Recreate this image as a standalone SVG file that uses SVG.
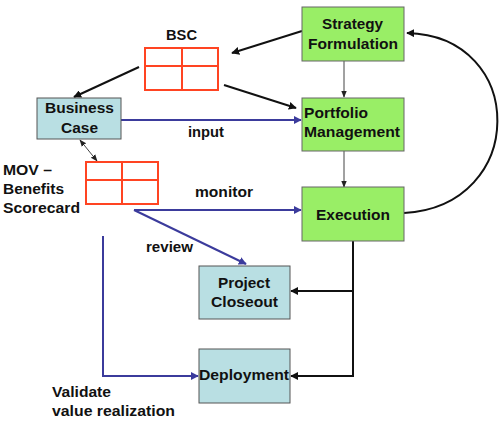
<svg xmlns="http://www.w3.org/2000/svg" width="499" height="427" viewBox="0 0 499 427">
<style>
text{font-family:"Liberation Sans",Arial,sans-serif;font-weight:bold;fill:#111;}
.b{font-size:15px;}
.l{font-size:14px;}
.green{fill:#99ee66;stroke:#666;stroke-width:1;}
.teal{fill:#b9dfe3;stroke:#555;stroke-width:1;}
.grid{fill:none;stroke:#ff4422;stroke-width:2;}
.blk{fill:none;stroke:#111;stroke-width:2;}
.thin{fill:none;stroke:#444;stroke-width:1;}
.blue{fill:none;stroke:#3b3b9c;stroke-width:2;}
</style>
<defs>
<marker id="ab" viewBox="0 0 10 10" refX="9" refY="5" markerWidth="4" markerHeight="4" orient="auto" markerUnits="strokeWidth"><path d="M0,0L10,5L0,10z" fill="#111"/></marker>
<marker id="at" viewBox="0 0 10 10" refX="9" refY="5" markerWidth="7" markerHeight="7" orient="auto-start-reverse" markerUnits="strokeWidth"><path d="M0,1L10,5L0,9z" fill="#222"/></marker>
<marker id="au" viewBox="0 0 10 10" refX="9" refY="5" markerWidth="4" markerHeight="4" orient="auto" markerUnits="strokeWidth"><path d="M0,0L10,5L0,10z" fill="#3b3b9c"/></marker>
</defs>
<g id="connectors">
<path class="blk" d="M302,31L232,53" marker-end="url(#ab)"/>
<path class="blk" d="M139,67L74,97" marker-end="url(#ab)"/>
<path class="blk" d="M224,85L296,108" marker-end="url(#ab)"/>
<path class="thin" d="M344,61L344,97" marker-end="url(#at)"/>
<path class="thin" d="M344,151L344,187" marker-end="url(#at)"/>
<path class="blk" d="M404,213C528,206 528,36 407,33" marker-end="url(#ab)"/>
<path class="thin" d="M80,140L97,161" marker-start="url(#at)" marker-end="url(#at)"/>
<path class="blue" d="M121,120L301,120" marker-end="url(#au)"/>
<path class="blue" d="M134,210L301,210" marker-end="url(#au)"/>
<path class="blue" d="M134,210L246,264" marker-end="url(#au)"/>
<path class="blue" d="M103,236L103,376L198,376" marker-end="url(#au)"/>
<path class="blk" d="M353,241L353,376L291,376" marker-end="url(#ab)"/>
<path class="blk" d="M353,291L291,291" marker-end="url(#ab)"/>
</g>
<g id="strategy">
<rect class="green" x="302" y="7" width="102" height="54"/>
<text class="b" x="322" y="29" textLength="61" lengthAdjust="spacingAndGlyphs">Strategy</text>
<text class="b" x="308" y="49" textLength="90" lengthAdjust="spacingAndGlyphs">Formulation</text>
</g>
<g id="portfolio">
<rect class="green" x="302" y="98" width="102" height="53"/>
<text class="b" x="304" y="118" textLength="64" lengthAdjust="spacingAndGlyphs">Portfolio</text>
<text class="b" x="304" y="137" textLength="96" lengthAdjust="spacingAndGlyphs">Management</text>
</g>
<g id="execution">
<rect class="green" x="302" y="187" width="102" height="54"/>
<text class="b" x="316" y="220" textLength="74" lengthAdjust="spacingAndGlyphs">Execution</text>
</g>
<g id="business-case">
<rect class="teal" x="37" y="98" width="84" height="41"/>
<text class="b" x="45" y="113" textLength="69" lengthAdjust="spacingAndGlyphs">Business</text>
<text class="b" x="61" y="133" textLength="37" lengthAdjust="spacingAndGlyphs">Case</text>
</g>
<g id="bsc">
<rect class="grid" x="145" y="48" width="73" height="42"/>
<path class="grid" d="M182,48V90M145,66H218"/>
<text class="l" x="166" y="40" textLength="31" lengthAdjust="spacingAndGlyphs">BSC</text>
</g>
<g id="mov">
<rect class="grid" x="86" y="162" width="72" height="42"/>
<path class="grid" d="M122,162V204M86,180H158"/>
<text class="l" x="3" y="175" textLength="49" lengthAdjust="spacingAndGlyphs">MOV –</text>
<text class="l" x="3" y="194" textLength="61" lengthAdjust="spacingAndGlyphs">Benefits</text>
<text class="l" x="3" y="213" textLength="77" lengthAdjust="spacingAndGlyphs">Scorecard</text>
</g>
<g id="closeout">
<rect class="teal" x="199" y="266" width="91" height="53"/>
<text class="b" x="218" y="288" textLength="52" lengthAdjust="spacingAndGlyphs">Project</text>
<text class="b" x="211" y="307" textLength="67" lengthAdjust="spacingAndGlyphs">Closeout</text>
</g>
<g id="deployment">
<rect class="teal" x="199" y="349" width="91" height="54"/>
<text class="b" x="199" y="380" textLength="90" lengthAdjust="spacingAndGlyphs">Deployment</text>
</g>
<g id="labels">
<text class="l" x="188" y="137" textLength="36" lengthAdjust="spacingAndGlyphs">input</text>
<text class="l" x="195" y="197" textLength="58" lengthAdjust="spacingAndGlyphs">monitor</text>
<text class="l" x="146" y="252" textLength="47" lengthAdjust="spacingAndGlyphs">review</text>
<text class="l" x="52" y="397" textLength="59" lengthAdjust="spacingAndGlyphs">Validate</text>
<text class="l" x="52" y="416" textLength="123" lengthAdjust="spacingAndGlyphs">value realization</text>
</g>
</svg>
